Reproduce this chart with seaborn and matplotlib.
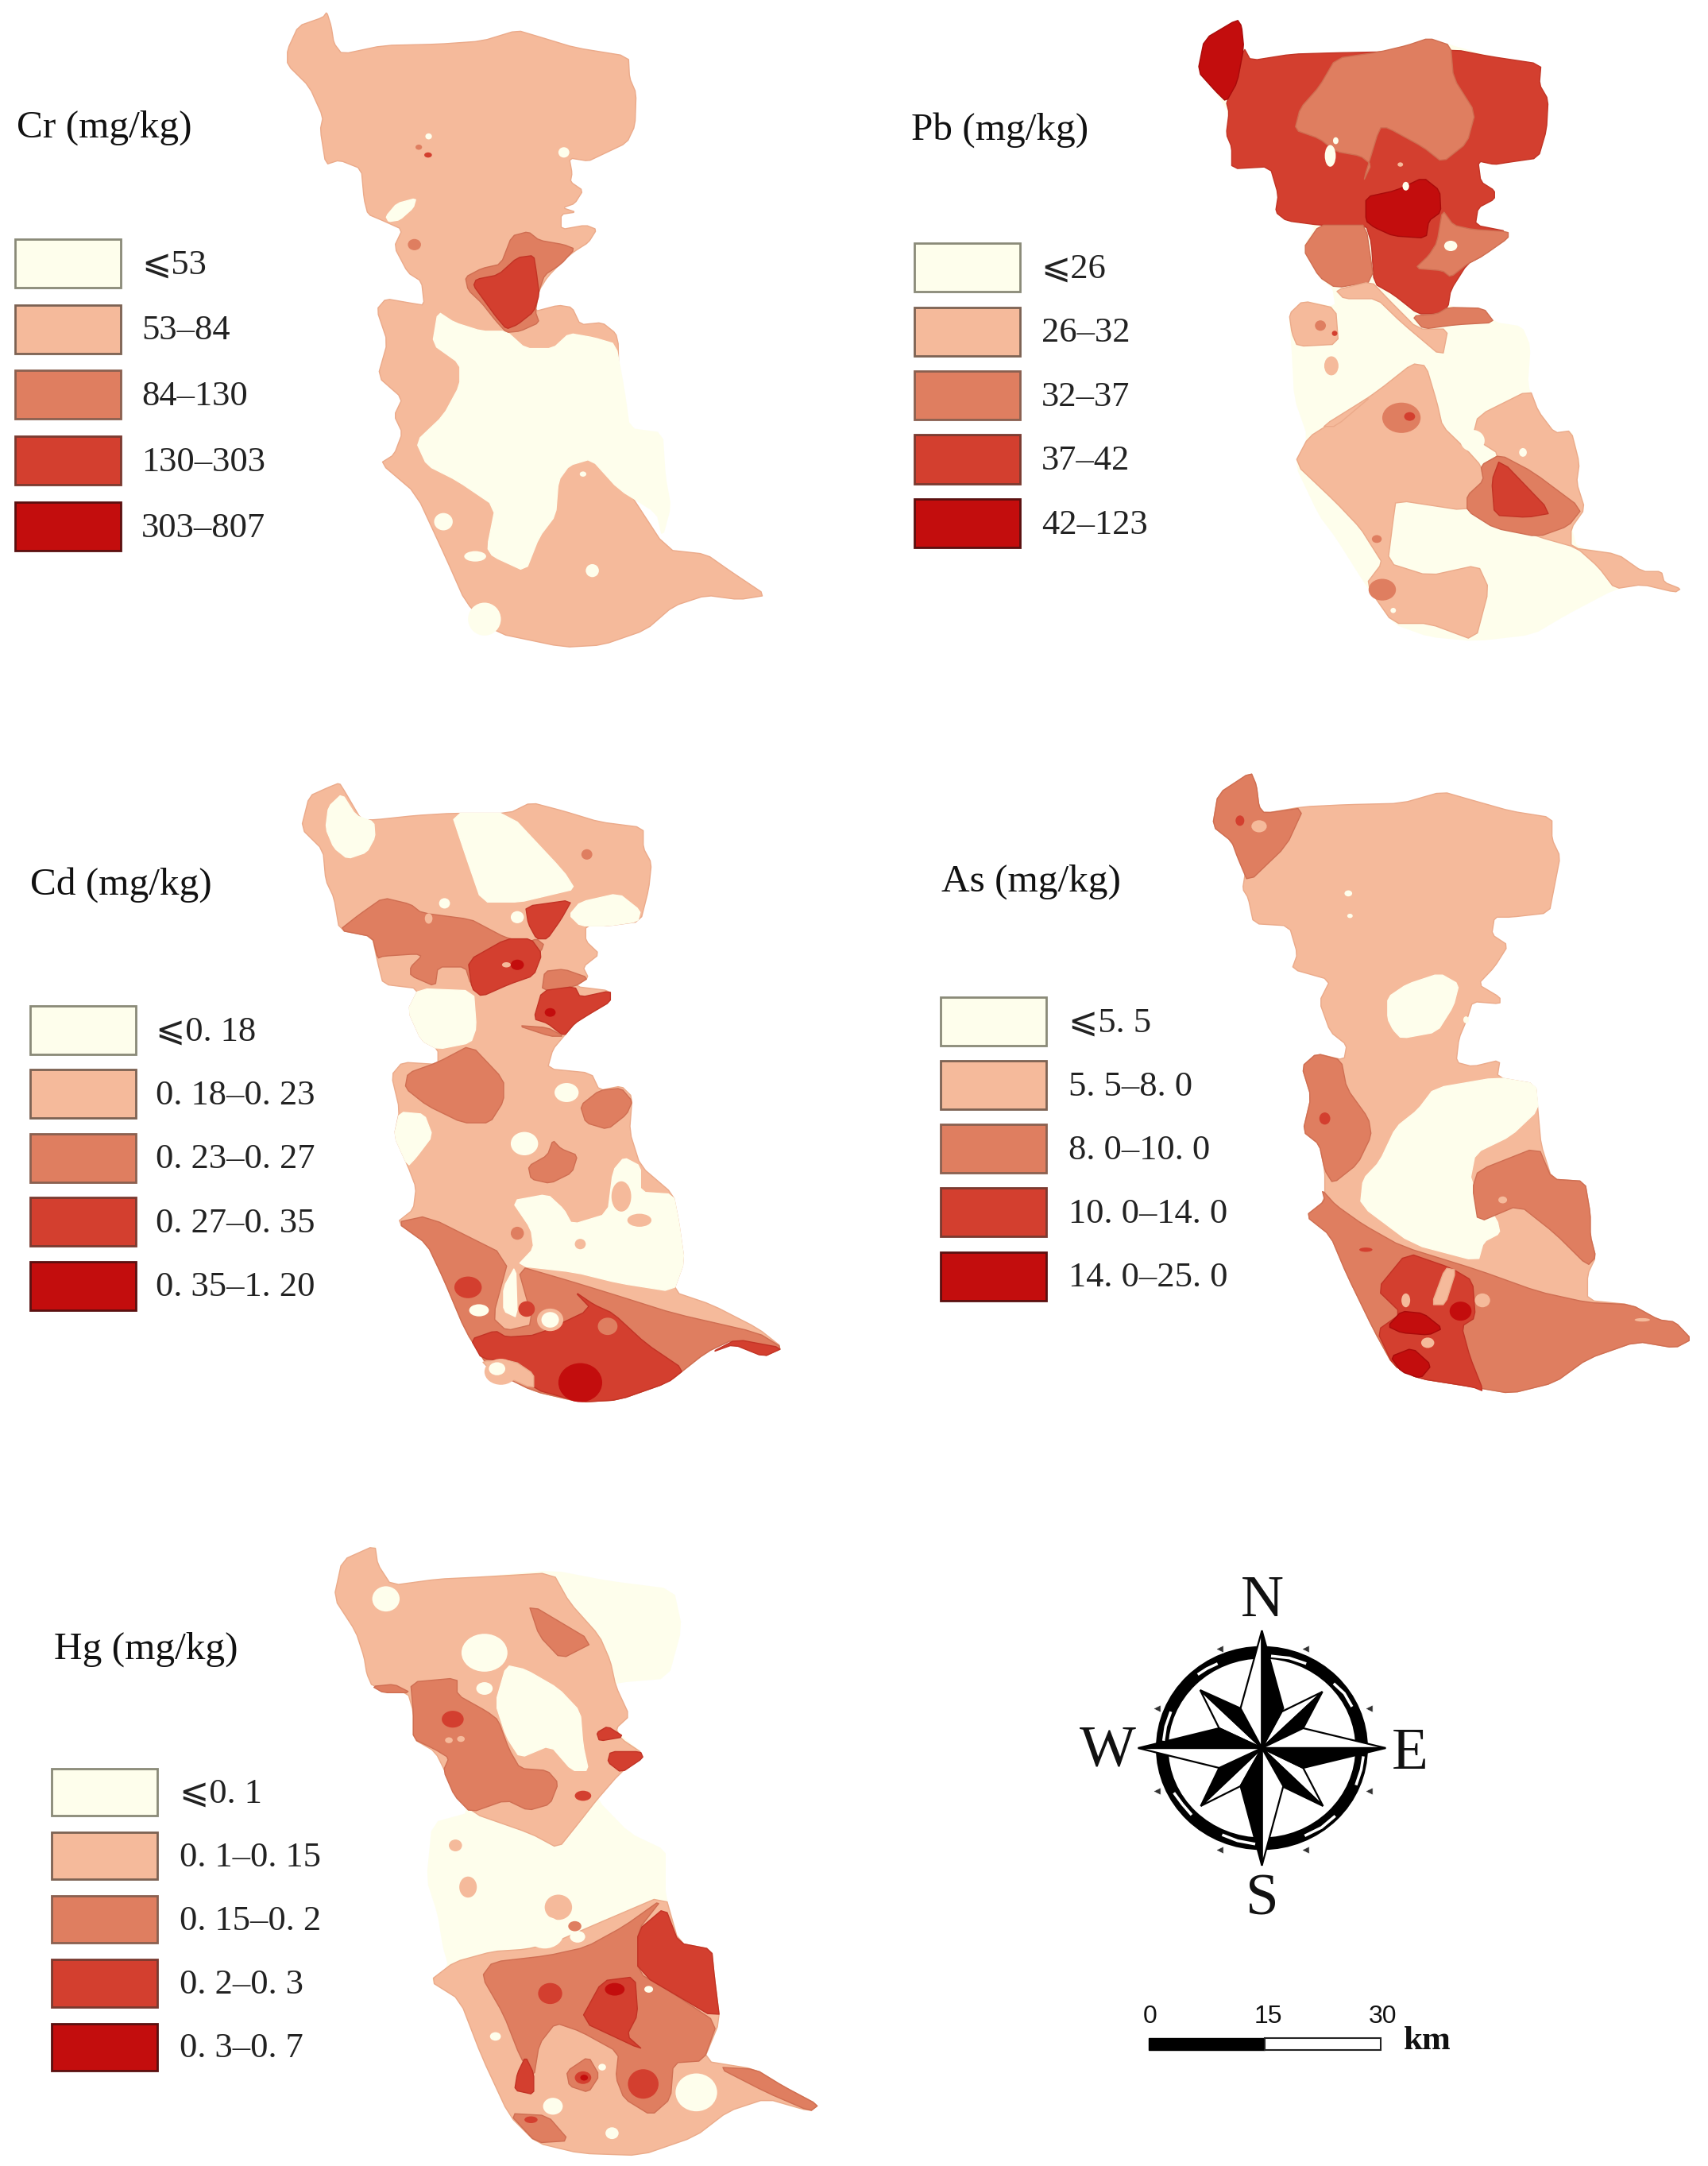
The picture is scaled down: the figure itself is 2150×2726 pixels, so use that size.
"""Soil heavy metal distribution maps (Cr, Pb, Cd, As, Hg) with compass and scale bar."""

import matplotlib
matplotlib.use('Agg')
import matplotlib.pyplot as plt
import seaborn as sns
from matplotlib.patches import Ellipse, Rectangle

FIG_W, FIG_H = 2150, 2726
FRAME = 1560  # every panel uses a 1560 x 1560 local grid

LEVEL_HEX = ['#FEFEEC', '#F5BA9B', '#DF7E60', '#D33F2F', '#C30D0D']
BORDER_HEX = ['#FEFEEC', '#EBAA8A', '#CF6E52', '#C23325', '#A80A0A']
EDGE_HEX = ['#8A8A78', '#7C6253', '#8A6050', '#7A3A30', '#5A1010']

CR_LABELS = ['⩽53', '53–84', '84–130', '130–303', '303–807']
PB_LABELS = ['⩽26', '26–32', '32–37', '37–42', '42–123']
CD_LABELS = ['⩽0. 18', '0. 18–0. 23', '0. 23–0. 27', '0. 27–0. 35', '0. 35–1. 20']
AS_LABELS = ['⩽5. 5', '5. 5–8. 0', '8. 0–10. 0', '10. 0–14. 0', '14. 0–25. 0']
HG_LABELS = ['⩽0. 1', '0. 1–0. 15', '0. 15–0. 2', '0. 2–0. 3', '0. 3–0. 7']

# (level, outline) in drawing order
CR_REGIONS = [
    (1, [(597, 28), (605, 60), (610, 100), (625, 125), (700, 105), (800, 102), (880, 95), (945, 70), (985, 85),
         (1050, 110), (1148, 130), (1150, 180), (1162, 215), (1160, 290), (1145, 330), (1095, 360), (1075, 372),
         (1040, 365), (1045, 400), (1042, 420), (1065, 440), (1050, 470), (1028, 480), (1052, 490), (1025, 495),
         (1025, 530), (1070, 520), (1090, 530), (1075, 560), (1050, 580), (1030, 600), (1000, 640), (985, 670),
         (975, 720), (1020, 705), (1045, 710), (1060, 750), (1100, 745), (1125, 770), (1130, 798), (1130, 1100),
         (1218, 1270), (1290, 1280), (1335, 1320), (1400, 1375), (1350, 1385), (1290, 1375), (1230, 1400),
         (1180, 1455), (1100, 1490), (1030, 1495), (905, 1462), (850, 1390), (815, 1290), (760, 1140), (695, 1070),
         (720, 1050), (735, 1000), (720, 960), (735, 920), (690, 870), (708, 790), (688, 715), (705, 690),
         (750, 700), (775, 705), (770, 650), (745, 630), (720, 570), (735, 530), (700, 510), (672, 495), (665, 460),
         (660, 390), (620, 370), (595, 380), (585, 300), (590, 270), (565, 200), (525, 150), (525, 115), (545, 60),
         (590, 40)]),
    (0, [(800, 720), (830, 745), (880, 765), (925, 765), (960, 805), (1010, 805), (1040, 770), (1085, 780),
         (1125, 795), (1140, 900), (1150, 990), (1210, 1000), (1215, 1100), (1225, 1170), (1210, 1240), (1200, 1185),
         (1130, 1130), (1080, 1060), (1040, 1075), (1020, 1110), (1015, 1190), (985, 1240), (960, 1320), (900, 1285),
         (890, 1265), (905, 1170), (835, 1110), (780, 1075), (760, 1020), (810, 960), (840, 890), (840, 840),
         (790, 795)]),
    (0, [(705, 500), (725, 470), (760, 458), (755, 480), (730, 508), (710, 512)]),
    (2, [(935, 545), (965, 535), (985, 555), (1030, 565), (1050, 575), (1025, 610), (995, 635), (985, 670),
         (978, 720), (985, 745), (950, 765), (925, 768), (905, 740), (880, 700), (855, 670), (850, 640), (880, 620),
         (915, 610)]),
    (3, [(945, 595), (975, 590), (980, 630), (985, 680), (975, 720), (945, 750), (925, 760), (905, 730), (885, 695),
         (865, 660), (870, 645), (910, 635)]),
]
# (level, x, y, rx, ry)
CR_SPOTS = [(2, 757, 565, 12, 13), (2, 765, 340, 6, 6), (3, 782, 358, 7, 6), (0, 783, 315, 6, 7),
            (0, 1030, 352, 10, 12), (0, 810, 1205, 17, 20), (0, 1082, 1318, 12, 15), (0, 885, 1430, 30, 38),
            (0, 868, 1285, 20, 12), (0, 1065, 1095, 6, 6), (0, 975, 1062, 3, 3)]

PB_REGIONS = [
    (0, [(700, 45), (708, 60), (710, 110), (725, 140), (800, 125), (880, 122), (960, 120), (1010, 105), (1050, 88),
         (1090, 105), (1160, 130), (1255, 148), (1252, 195), (1268, 230), (1265, 300), (1250, 365), (1195, 375),
         (1170, 380), (1140, 372), (1145, 420), (1170, 440), (1170, 460), (1140, 480), (1135, 520), (1195, 535),
         (1195, 550), (1150, 590), (1120, 610), (1090, 670), (1085, 710), (1150, 712), (1170, 745), (1220, 755),
         (1235, 800), (1230, 890), (1250, 950), (1280, 1000), (1310, 995), (1320, 1040), (1325, 1070), (1320, 1115),
         (1335, 1175), (1310, 1220), (1320, 1265), (1395, 1280), (1440, 1320), (1475, 1320), (1480, 1345),
         (1510, 1360), (1500, 1368), (1440, 1350), (1390, 1360), (1300, 1420), (1240, 1465), (1135, 1480),
         (1050, 1470), (985, 1440), (935, 1350), (880, 1240), (850, 1190), (805, 1070), (830, 1010), (805, 920),
         (800, 800), (795, 725), (820, 695), (880, 710), (875, 665), (850, 640), (820, 575), (845, 520), (790, 510),
         (770, 490), (775, 450), (760, 385), (690, 390), (690, 340), (680, 310), (685, 260), (660, 210), (628, 165),
         (640, 90)]),
    (3, [(712, 110), (725, 140), (800, 125), (880, 122), (960, 120), (1100, 115), (1160, 130), (1255, 148),
         (1252, 195), (1268, 230), (1265, 300), (1250, 365), (1195, 375), (1170, 380), (1140, 372), (1145, 420),
         (1170, 440), (1170, 460), (1140, 480), (1135, 520), (1195, 535), (1150, 590), (1120, 610), (1090, 670),
         (1085, 710), (1065, 725), (1030, 725), (985, 680), (950, 655), (945, 560), (935, 520), (880, 520),
         (850, 520), (790, 510), (770, 490), (775, 450), (760, 385), (690, 390), (690, 340), (680, 310), (685, 260),
         (680, 235), (700, 190)]),
    (4, [(700, 45), (708, 60), (712, 110), (700, 190), (680, 235), (660, 210), (628, 165), (640, 90)]),
    (2, [(880, 135), (960, 120), (1010, 105), (1050, 88), (1090, 105), (1095, 180), (1135, 260), (1120, 330),
         (1075, 375), (1040, 340), (975, 295), (960, 295), (930, 420), (945, 380), (925, 360), (880, 350),
         (850, 320), (805, 300), (815, 250), (850, 200)]),
    (2, [(850, 520), (900, 520), (935, 520), (950, 650), (880, 665), (850, 640), (820, 575)]),
    (2, [(1075, 485), (1095, 520), (1130, 530), (1195, 535), (1195, 550), (1150, 590), (1120, 610), (1090, 640),
         (1075, 625), (1025, 620), (1050, 590), (1065, 560)]),
    (4, [(935, 455), (990, 440), (1040, 410), (1070, 440), (1072, 490), (1050, 510), (1045, 550), (985, 545),
         (950, 525), (935, 510)]),
    (1, [(880, 670), (945, 650), (975, 690), (1030, 760), (1085, 760), (1075, 825), (1000, 745), (955, 690),
         (895, 690)]),
    (2, [(1020, 730), (1065, 725), (1085, 710), (1150, 712), (1170, 745), (1100, 750), (1040, 760)]),
    (1, [(795, 725), (820, 695), (880, 712), (885, 795), (810, 800), (800, 770)]),
    (1, [(1020, 840), (1045, 845), (1065, 930), (1075, 985), (1120, 1040), (1145, 1075), (1150, 1110), (1120, 1145),
         (1120, 1180), (990, 1155), (985, 1200), (975, 1300), (1050, 1330), (1140, 1305), (1160, 1360), (1135, 1480),
         (1050, 1440), (985, 1440), (935, 1350), (965, 1300), (950, 1270), (925, 1220), (880, 1160), (805, 1070),
         (830, 1010), (880, 970), (960, 900)]),
    (1, [(1140, 960), (1235, 900), (1250, 950), (1280, 1000), (1310, 995), (1325, 1070), (1320, 1115), (1335, 1175),
         (1310, 1220), (1310, 1265), (1395, 1280), (1440, 1320), (1475, 1320), (1480, 1345), (1510, 1360),
         (1500, 1368), (1440, 1350), (1390, 1360), (1360, 1310), (1320, 1265), (1250, 1240), (1120, 1180),
         (1120, 1145), (1150, 1110), (1145, 1075), (1180, 1050), (1130, 1010)]),
    (1, [(855, 985), (950, 910), (880, 985)]),
    (2, [(1180, 1050), (1240, 1090), (1330, 1175), (1305, 1215), (1250, 1240), (1170, 1220), (1120, 1180),
         (1120, 1145), (1150, 1110), (1145, 1075)]),
    (3, [(1180, 1060), (1275, 1185), (1230, 1195), (1170, 1190), (1165, 1110)]),
]
PB_SPOTS = [(3, 840, 368, 14, 18), (3, 845, 450, 22, 18), (3, 860, 485, 20, 22), (3, 1163, 330, 14, 18),
            (3, 1020, 358, 10, 12), (0, 870, 360, 10, 25), (0, 880, 325, 5, 8), (0, 1090, 568, 12, 12),
            (0, 1008, 430, 6, 10), (1, 998, 380, 5, 5), (2, 852, 752, 10, 12), (3, 878, 770, 5, 6),
            (1, 872, 845, 13, 22), (2, 1000, 965, 35, 35), (3, 1015, 962, 10, 10), (0, 1130, 1018, 22, 25),
            (0, 1222, 1045, 7, 10), (2, 965, 1362, 25, 25), (2, 955, 1245, 9, 9), (0, 985, 1410, 5, 6)]

CD_REGIONS = [
    (1, [(620, 65), (630, 85), (660, 150), (685, 150), (760, 140), (825, 135), (930, 135), (970, 110), (1030, 130),
         (1095, 155), (1175, 168), (1175, 215), (1190, 250), (1185, 310), (1170, 385), (1110, 395), (1070, 395),
         (1070, 430), (1095, 460), (1065, 490), (1075, 515), (1050, 535), (1115, 545), (1115, 570), (1075, 600),
         (1050, 620), (1030, 650), (1010, 680), (1000, 725), (1080, 735), (1095, 775), (1135, 765), (1155, 790),
         (1150, 870), (1170, 950), (1230, 1015), (1240, 1080), (1250, 1170), (1230, 1240), (1300, 1270),
         (1385, 1325), (1430, 1370), (1395, 1390), (1340, 1350), (1290, 1380), (1220, 1450), (1130, 1490),
         (1060, 1495), (975, 1470), (895, 1420), (850, 1330), (810, 1210), (780, 1130), (725, 1080), (755, 1050),
         (760, 1000), (745, 950), (720, 880), (730, 820), (715, 740), (735, 710), (800, 715), (800, 680), (770, 660),
         (745, 590), (765, 540), (700, 530), (690, 480), (680, 420), (620, 405), (610, 330), (595, 290), (590, 220),
         (550, 170), (565, 95), (600, 75)]),
    (0, [(625, 90), (600, 120), (595, 170), (610, 215), (635, 240), (670, 225), (685, 190), (683, 155), (650, 140)]),
    (0, [(825, 135), (930, 135), (1030, 270), (1050, 310), (1000, 325), (950, 340), (880, 340), (850, 230)]),
    (0, [(1060, 340), (1130, 320), (1170, 360), (1165, 385), (1110, 395), (1060, 395), (1040, 370)]),
    (0, [(745, 590), (765, 540), (865, 545), (870, 630), (860, 665), (800, 680), (770, 660)]),
    (0, [(720, 880), (730, 825), (775, 830), (790, 880), (760, 930), (745, 950)]),
    (0, [(935, 1030), (1000, 1015), (1030, 1050), (1045, 1085), (1110, 1060), (1120, 960), (1140, 930), (1170, 950),
         (1170, 1010), (1230, 1015), (1240, 1080), (1250, 1170), (1230, 1240), (1130, 1220), (1050, 1195),
         (945, 1180), (975, 1140), (970, 1095)]),
    (2, [(620, 405), (655, 370), (700, 330), (750, 345), (770, 365), (860, 380), (890, 400), (920, 420), (960, 435),
         (980, 425), (995, 440), (960, 500), (890, 540), (860, 530), (850, 490), (800, 490), (795, 535), (750, 510),
         (750, 490), (770, 465), (760, 460), (700, 465), (690, 470), (680, 420)]),
    (3, [(855, 475), (925, 425), (970, 425), (990, 460), (975, 510), (930, 530), (880, 558), (862, 540)]),
    (3, [(960, 350), (1045, 335), (1025, 380), (1000, 425), (980, 425), (965, 390)]),
    (2, [(995, 500), (1030, 495), (1075, 515), (1050, 535), (990, 545)]),
    (3, [(990, 545), (1050, 535), (1060, 560), (1115, 545), (1115, 570), (1075, 600), (1050, 620), (1030, 650),
         (1000, 620), (975, 610)]),
    (2, [(945, 625), (1000, 630), (1030, 650), (1005, 650)]),
    (2, [(745, 735), (800, 710), (860, 670), (920, 750), (920, 800), (895, 850), (845, 850), (780, 810), (740, 770)]),
    (2, [(1060, 810), (1095, 775), (1135, 770), (1155, 800), (1145, 830), (1110, 865), (1070, 850)]),
    (2, [(1010, 890), (1025, 910), (1055, 925), (1045, 965), (1005, 990), (970, 980), (965, 950), (1000, 925)]),
    (2, [(725, 1080), (780, 1065), (930, 1160), (900, 1300), (925, 1330), (975, 1315), (945, 1180), (1040, 1215),
         (1130, 1250), (1230, 1290), (1385, 1335), (1430, 1370), (1395, 1390), (1340, 1350), (1290, 1380),
         (1220, 1450), (1130, 1490), (1060, 1495), (975, 1470), (895, 1420), (850, 1330), (810, 1210), (780, 1130)]),
    (0, [(942, 1180), (945, 1300), (920, 1285), (920, 1230)]),
    (3, [(860, 1350), (905, 1330), (925, 1345), (980, 1340), (1080, 1280), (1050, 1240), (1085, 1270), (1120, 1290),
         (1180, 1360), (1250, 1420), (1220, 1450), (1130, 1490), (1060, 1495), (975, 1465), (975, 1430), (940, 1400),
         (880, 1395)]),
    (1, [(880, 1400), (940, 1400), (975, 1430), (975, 1465), (895, 1420)]),
    (3, [(1300, 1380), (1345, 1350), (1430, 1370), (1395, 1390), (1340, 1362)]),
]
CD_SPOTS = [(4, 1060, 1450, 40, 45), (3, 855, 1230, 25, 25), (3, 962, 1280, 15, 18), (2, 1110, 1320, 18, 20),
            (0, 958, 898, 25, 27), (0, 1035, 780, 22, 22), (1, 1005, 1305, 24, 26), (0, 1005, 1305, 16, 18),
            (0, 875, 1283, 18, 14), (0, 812, 343, 10, 12), (0, 945, 375, 12, 14), (2, 1072, 230, 10, 12),
            (2, 945, 1105, 12, 15), (1, 1060, 1130, 10, 12), (1, 1135, 1020, 18, 35), (1, 1168, 1075, 22, 15),
            (1, 915, 1425, 30, 30), (0, 908, 1418, 15, 15), (4, 1005, 595, 10, 10), (4, 945, 485, 12, 12),
            (1, 925, 485, 8, 6), (1, 783, 378, 7, 12)]

AS_REGIONS = [
    (1, [(725, 40), (735, 70), (740, 120), (750, 135), (820, 120), (900, 115), (1000, 112), (1075, 85), (1130, 105),
         (1200, 130), (1275, 145), (1275, 195), (1290, 235), (1280, 300), (1270, 365), (1200, 375), (1170, 375),
         (1165, 415), (1195, 440), (1170, 490), (1140, 530), (1180, 560), (1180, 575), (1130, 570), (1120, 610),
         (1105, 655), (1100, 710), (1130, 720), (1180, 705), (1175, 745), (1245, 760), (1250, 830), (1255, 900),
         (1275, 980), (1335, 985), (1345, 1060), (1345, 1110), (1355, 1160), (1340, 1200), (1340, 1260), (1420, 1270),
         (1470, 1305), (1500, 1310), (1530, 1350), (1500, 1370), (1430, 1355), (1340, 1395), (1280, 1450),
         (1200, 1475), (1130, 1460), (1030, 1440), (985, 1410), (950, 1330), (900, 1200), (870, 1110), (825, 1065),
         (860, 1030), (860, 960), (850, 900), (820, 870), (835, 790), (818, 720), (845, 690), (895, 705), (900, 670),
         (870, 640), (850, 570), (870, 520), (800, 495), (810, 460), (795, 395), (730, 390), (720, 330), (710, 310),
         (715, 270), (690, 200), (655, 165), (665, 90)]),
    (2, [(725, 40), (735, 70), (740, 120), (750, 135), (822, 122), (790, 210), (720, 295), (700, 235), (690, 200),
         (655, 165), (665, 90)]),
    (0, [(975, 560), (1010, 530), (1070, 505), (1105, 530), (1095, 580), (1065, 640), (1000, 655), (985, 635),
         (975, 610)]),
    (0, [(1060, 770), (1175, 745), (1245, 760), (1250, 820), (1200, 880), (1135, 920), (1125, 985), (1175, 1075),
         (1180, 1105), (1150, 1125), (1140, 1170), (1020, 1130), (925, 1040), (930, 980), (960, 940), (990, 860),
         (1030, 820)]),
    (2, [(818, 720), (845, 690), (890, 705), (900, 770), (940, 840), (945, 880), (920, 945), (875, 990), (860, 960),
         (850, 900), (820, 870), (835, 790)]),
    (2, [(855, 1005), (880, 1040), (930, 1085), (1000, 1135), (1140, 1190), (1250, 1240), (1340, 1265), (1420, 1270),
         (1470, 1305), (1500, 1310), (1530, 1350), (1500, 1370), (1430, 1355), (1340, 1395), (1280, 1450),
         (1200, 1475), (1130, 1460), (1030, 1440), (985, 1410), (950, 1330), (900, 1200), (870, 1110), (825, 1065),
         (860, 1030)]),
    (2, [(1140, 960), (1250, 905), (1275, 980), (1335, 985), (1345, 1060), (1345, 1110), (1355, 1160), (1340, 1180),
         (1280, 1105), (1215, 1040), (1140, 1080), (1130, 1000)]),
    (3, [(1010, 1150), (1090, 1185), (1130, 1215), (1135, 1300), (1110, 1320), (1125, 1390), (1150, 1470),
         (1130, 1460), (1030, 1440), (985, 1410), (955, 1330), (1000, 1290), (955, 1235)]),
    (1, [(1080, 1185), (1100, 1190), (1080, 1270), (1055, 1270)]),
    (4, [(975, 1320), (1000, 1285), (1040, 1290), (1075, 1325), (1050, 1340), (1000, 1335)]),
    (4, [(980, 1390), (1020, 1370), (1055, 1410), (1035, 1440), (1000, 1425)]),
]
AS_SPOTS = [(4, 1108, 1285, 20, 22), (3, 860, 840, 10, 14), (3, 705, 152, 8, 12), (1, 740, 165, 14, 14),
            (1, 1148, 1260, 14, 16), (1, 1048, 1358, 12, 12), (0, 903, 320, 7, 7), (0, 906, 372, 5, 5),
            (0, 1118, 612, 5, 8), (1, 1008, 1260, 8, 16), (1, 1185, 1028, 8, 8), (3, 935, 1143, 12, 5),
            (1, 1440, 1305, 14, 4)]

HG_REGIONS = [
    (0, [(1010, 145), (1110, 170), (1230, 190), (1245, 280), (1220, 400), (1130, 410), (1120, 420), (1150, 490),
         (1125, 520), (1140, 545), (1175, 580), (1130, 630), (1100, 660), (1090, 690), (1150, 770), (1215, 810),
         (1215, 860), (1215, 915), (1240, 1030), (1300, 1045), (1305, 1110), (1315, 1215), (1285, 1310), (1380, 1330),
         (1430, 1370), (1495, 1415), (1480, 1430), (1400, 1400), (1330, 1430), (1270, 1490), (1170, 1535),
         (1060, 1530), (980, 1505), (930, 1440), (880, 1300), (840, 1165), (785, 1120), (820, 1085), (810, 1040),
         (800, 960), (780, 880), (790, 745), (860, 720), (820, 640), (795, 575), (755, 545), (755, 480), (745, 435),
         (680, 420), (670, 390), (665, 350), (650, 290), (610, 210), (625, 120), (680, 100), (685, 85), (690, 130),
         (715, 180), (800, 165), (880, 160)]),
    (1, [(685, 85), (690, 130), (715, 180), (800, 165), (880, 160), (1010, 150), (1040, 220), (1095, 300),
         (1115, 360), (1125, 420), (1150, 490), (1125, 520), (1135, 545), (1175, 580), (1130, 630), (1090, 690),
         (1060, 740), (1020, 805), (970, 770), (860, 720), (820, 640), (795, 575), (755, 545), (755, 480), (745, 435),
         (680, 420), (670, 390), (665, 350), (650, 290), (610, 210), (625, 120)]),
    (0, [(925, 370), (960, 380), (1020, 425), (1060, 480), (1065, 560), (1075, 620), (1045, 620), (1005, 560),
         (950, 590), (925, 540), (905, 460)]),
    (2, [(965, 222), (1085, 315), (1025, 355), (985, 300)]),
    (2, [(750, 410), (835, 400), (835, 440), (890, 480), (910, 500), (930, 570), (950, 615), (1000, 620), (1020, 650),
         (1005, 700), (965, 715), (925, 690), (860, 720), (830, 680), (810, 620), (820, 590), (795, 570), (755, 545),
         (755, 480)]),
    (2, [(680, 420), (720, 415), (750, 435), (700, 435)]),
    (3, [(1090, 530), (1110, 515), (1140, 540), (1095, 550)]),
    (3, [(1115, 575), (1170, 575), (1175, 590), (1135, 625), (1110, 600)]),
    (1, [(785, 1120), (830, 1075), (900, 1050), (960, 1045), (1010, 1030), (1080, 990), (1215, 915), (1240, 1030),
         (1300, 1045), (1305, 1110), (1315, 1215), (1285, 1310), (1380, 1330), (1430, 1370), (1495, 1415),
         (1480, 1430), (1400, 1400), (1330, 1430), (1270, 1490), (1170, 1535), (1060, 1530), (980, 1505), (930, 1440),
         (880, 1300), (840, 1165)]),
    (2, [(880, 1110), (900, 1075), (1000, 1060), (1070, 1040), (1140, 990), (1210, 925), (1165, 1000), (1165, 1100),
         (1230, 1150), (1310, 1220), (1285, 1310), (1230, 1315), (1225, 1400), (1190, 1440), (1140, 1400),
         (1125, 1350), (1130, 1290), (1060, 1240), (1015, 1220), (985, 1270), (975, 1350), (950, 1300), (920, 1200)]),
    (3, [(1215, 945), (1240, 1030), (1300, 1045), (1305, 1110), (1315, 1215), (1165, 1100), (1165, 1000)]),
    (3, [(1100, 1120), (1160, 1110), (1165, 1200), (1145, 1250), (1175, 1285), (1060, 1215)]),
    (2, [(1310, 1325), (1380, 1330), (1430, 1370), (1495, 1415), (1480, 1430), (1400, 1385)]),
    (2, [(930, 1435), (1000, 1440), (1040, 1500), (980, 1505)]),
    (2, [(1035, 1335), (1075, 1300), (1095, 1345), (1075, 1385), (1040, 1370)]),
    (3, [(960, 1300), (975, 1340), (975, 1390), (940, 1380), (945, 1340)]),
]
HG_SPOTS = [(0, 705, 212, 25, 30), (0, 885, 340, 42, 45), (3, 827, 498, 20, 20), (3, 1065, 680, 15, 12),
            (1, 832, 798, 12, 14), (1, 855, 897, 16, 25), (1, 1020, 945, 25, 30), (3, 1065, 1350, 15, 15),
            (4, 1067, 1350, 7, 7), (3, 1175, 1365, 28, 35), (3, 1005, 1150, 22, 25), (4, 1123, 1140, 18, 15),
            (3, 970, 1450, 12, 8), (0, 1272, 1385, 38, 45), (0, 1010, 1418, 18, 20), (0, 995, 1005, 35, 38),
            (0, 1055, 1015, 14, 14), (2, 1050, 990, 12, 12), (0, 905, 1252, 10, 10), (0, 1118, 1482, 12, 14),
            (0, 1100, 1325, 7, 8), (0, 885, 425, 15, 15), (0, 1185, 1140, 8, 8), (1, 820, 548, 7, 7), (1, 842, 545, 7, 7)]

# panel placement in the figure and where its title and legend sit on the local grid
PANELS = [
    dict(name='Cr (mg/kg)', box=(0, 0, 1075, 850), title=(30, 295), legend=(27, 552, 258), step=152,
         labels=CR_LABELS, regions=CR_REGIONS, spots=CR_SPOTS),
    dict(name='Pb (mg/kg)', box=(1075, 0, 1075, 850), title=(105, 300), legend=(110, 562, 342), step=147.6,
         labels=PB_LABELS, regions=PB_REGIONS, spots=PB_SPOTS),
    dict(name='Cd (mg/kg)', box=(0, 950, 1075, 850), title=(55, 300), legend=(55, 580, 285), step=147.5,
         labels=CD_LABELS, regions=CD_REGIONS, spots=CD_SPOTS),
    dict(name='As (mg/kg)', box=(1075, 950, 1075, 850), title=(160, 293), legend=(158, 560, 392), step=147,
         labels=AS_LABELS, regions=AS_REGIONS, spots=AS_SPOTS),
    dict(name='Hg (mg/kg)', box=(0, 1900, 1075, 826), title=(98, 332), legend=(95, 615, 328), step=151.5,
         labels=HG_LABELS, regions=HG_REGIONS, spots=HG_SPOTS),
]

# compass star: tip, white side waist, black side waist
STAR_POINTS = [
    ((948, 430), (815, 490), (885, 540)), ((950, 775), (885, 660), (815, 715)),
    ((550, 775), (680, 715), (610, 660)), ((548, 425), (610, 540), (680, 480)),
    ((750, 245), (680, 480), (820, 480)), ((1155, 600), (885, 540), (885, 660)),
    ((750, 955), (820, 715), (680, 715)), ((345, 600), (610, 660), (610, 540)),
]
RING_GAPS = [[(540, 378), (570, 360), (605, 345)], [(780, 322), (840, 328), (895, 345)],
             [(985, 405), (1020, 435), (1045, 475)], [(1082, 625), (1075, 665), (1058, 712)],
             [(990, 805), (945, 840), (890, 865)], [(620, 862), (670, 880), (728, 890)],
             [(520, 802), (490, 770), (462, 735)], [(452, 490), (435, 535), (428, 578)]]
TICK_X = [612, 893, 405, 1100, 405, 1100, 612, 893]
TICK_Y = [300, 300, 480, 480, 730, 730, 908, 908]
COMPASS_LETTERS = [('N', 752, 160), ('S', 750, 1060), ('W', 245, 612), ('E', 1235, 619)]
SCALE_TICKS = [('0', 385, 1410), ('15', 770, 1410), ('30', 1145, 1410)]

sns.set_theme(style='white')
SERIF = ['Liberation Serif', 'DejaVu Sans']
palette = sns.color_palette(LEVEL_HEX)
borders = sns.color_palette(BORDER_HEX)


def round_corners(outline, cut=0.15):
    """Cut each polygon corner once so the traced outlines are not so angular."""
    rounded = []
    for i, (x0, y0) in enumerate(outline):
        x1, y1 = outline[(i + 1) % len(outline)]
        rounded.append((x0 + cut * (x1 - x0), y0 + cut * (y1 - y0)))
        rounded.append((x1 - cut * (x1 - x0), y1 - cut * (y1 - y0)))
    return rounded


def panel_axes(fig, box):
    x, y, w, h = box
    ax = fig.add_axes([x / FIG_W, 1 - (y + h) / FIG_H, w / FIG_W, h / FIG_H])
    ax.set_xlim(0, FRAME)
    ax.set_ylim(FRAME, 0)
    ax.axis('off')
    return ax


def draw_panel(fig, panel):
    ax = panel_axes(fig, panel['box'])
    for level, outline in panel['regions']:
        xs, ys = zip(*round_corners(outline))
        ax.fill(xs, ys, facecolor=palette[level], edgecolor=borders[level], lw=1.0, joinstyle='round')
    for level, x, y, rx, ry in panel['spots']:
        ax.add_patch(Ellipse((x, y), 2 * rx, 2 * ry, facecolor=palette[level], edgecolor='none'))

    tx, ty = panel['title']
    ax.text(tx, ty, panel['name'], family=SERIF, fontsize=35.5, color='#111111', ha='left', va='center')

    left, top, label_x = panel['legend']
    for i, label in enumerate(panel['labels']):
        y = top + i * panel['step']
        ax.add_patch(Rectangle((left, y), 193, 112, facecolor=palette[i], edgecolor=EDGE_HEX[i], lw=2))
        ax.text(label_x, y + 60, label, family=SERIF, fontsize=32, color='#222222', ha='left', va='center')


def draw_compass(fig):
    ax = panel_axes(fig, (1300, 1950, 600, 650))
    ax.add_patch(Ellipse((750, 600), 694, 616, facecolor='black', edgecolor='none'))
    ax.add_patch(Ellipse((750, 600), 612, 540, facecolor='white', edgecolor='none'))
    for gap in RING_GAPS:
        xs, ys = zip(*gap)
        ax.plot(xs, ys, color='white', lw=2.5, solid_capstyle='butt')
    sns.scatterplot(x=TICK_X, y=TICK_Y, marker='<', s=45, color='#333333', ax=ax, legend=False)

    for tip, white_side, black_side in STAR_POINTS:
        wx, wy = zip(tip, white_side, (750, 600))
        bx, by = zip(tip, black_side, (750, 600))
        ax.fill(wx, wy, facecolor='white', edgecolor='black', lw=1.6, joinstyle='miter')
        ax.fill(bx, by, facecolor='black', edgecolor='black', lw=1.6, joinstyle='miter')

    for letter, x, y in COMPASS_LETTERS:
        ax.text(x, y, letter, family=SERIF, fontsize=54, color='#111111', ha='center', va='center')

    ax.add_patch(Rectangle((380, 1475), 380, 38, facecolor='black', edgecolor='black', lw=1))
    ax.add_patch(Rectangle((760, 1475), 378, 38, facecolor='white', edgecolor='#222222', lw=1.5))
    for label, x, y in SCALE_TICKS:
        ax.text(x, y, label, family='Liberation Sans', fontsize=23, color='#111111', ha='center', va='center')
    ax.text(1215, 1485, 'km', family=SERIF, fontsize=31, fontweight='bold', color='#111111', ha='left', va='center')


fig = plt.figure(figsize=(FIG_W / 100, FIG_H / 100), dpi=100, facecolor='white')
for panel in PANELS:
    draw_panel(fig, panel)
draw_compass(fig)

fig.savefig('out.png', dpi=100, facecolor='white')
plt.close(fig)
